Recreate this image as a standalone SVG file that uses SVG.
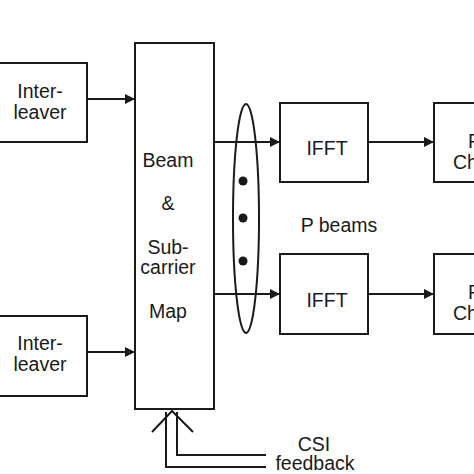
<svg xmlns="http://www.w3.org/2000/svg" width="474" height="474" viewBox="0 0 474 474">
<defs>
<style>
.box{fill:#fff;stroke:#1a1a1a;stroke-width:2}
.ln{fill:none;stroke:#1a1a1a;stroke-width:2}
text{font-family:"Liberation Sans",Arial,sans-serif;font-size:19.5px;fill:#1a1a1a;text-anchor:middle}
</style>
<marker id="arr" markerWidth="10" markerHeight="10" refX="9" refY="5" orient="auto" markerUnits="userSpaceOnUse">
<path d="M0,0 L10,5 L0,10 Z" fill="#1a1a1a"/>
</marker>
</defs>
<rect width="474" height="474" fill="#fff"/>
<g id="connectors">
<line class="ln" x1="87" y1="99" x2="134" y2="99" marker-end="url(#arr)"/>
<line class="ln" x1="87" y1="352" x2="134" y2="352" marker-end="url(#arr)"/>
<line class="ln" x1="214" y1="142" x2="279" y2="142" marker-end="url(#arr)"/>
<line class="ln" x1="214" y1="294" x2="279" y2="294" marker-end="url(#arr)"/>
<line class="ln" x1="368" y1="142" x2="433" y2="142" marker-end="url(#arr)"/>
<line class="ln" x1="368" y1="294" x2="433" y2="294" marker-end="url(#arr)"/>
<polyline class="ln" points="266,467 166,467 166,412"/>
<polyline class="ln" points="266,455 177,455 177,412"/>
<polyline class="ln" points="152,432 172,411 193,432"/>
</g>
<g id="interleaver1">
<rect class="box" x="-2" y="63" width="89" height="79"/>
<text x="40" y="98">Inter-</text>
<text x="40" y="119">leaver</text>
</g>
<g id="interleaver2">
<rect class="box" x="-2" y="316" width="89" height="80"/>
<text x="40" y="350">Inter-</text>
<text x="40" y="371">leaver</text>
</g>
<g id="map">
<rect class="box" x="135" y="43" width="79" height="366"/>
<text x="168" y="167">Beam</text>
<text x="168" y="210">&amp;</text>
<text x="168" y="254">Sub-</text>
<text x="168" y="274">carrier</text>
<text x="168" y="318">Map</text>
</g>
<g id="beams">
<ellipse class="ln" cx="246" cy="218.5" rx="13" ry="114.5"/>
<circle cx="243" cy="181" r="4.5" fill="#1a1a1a"/>
<circle cx="243" cy="218" r="4.5" fill="#1a1a1a"/>
<circle cx="243" cy="261" r="4.5" fill="#1a1a1a"/>
<text x="339" y="232">P beams</text>
</g>
<g id="ifft1">
<rect class="box" x="280" y="103" width="88" height="79"/>
<text x="327" y="155">IFFT</text>
</g>
<g id="ifft2">
<rect class="box" x="280" y="254" width="88" height="80"/>
<text x="327" y="307">IFFT</text>
</g>
<g id="right1">
<rect class="box" x="434" y="103" width="60" height="79"/>
<text x="468" y="148" style="text-anchor:start">P</text>
<text x="453" y="169" style="text-anchor:start">Ch</text>
</g>
<g id="right2">
<rect class="box" x="434" y="254" width="60" height="80"/>
<text x="468" y="299" style="text-anchor:start">P</text>
<text x="453" y="320" style="text-anchor:start">Ch</text>
</g>
<g id="csi">
<text x="314" y="451">CSI</text>
<text x="315" y="470">feedback</text>
</g>
</svg>
